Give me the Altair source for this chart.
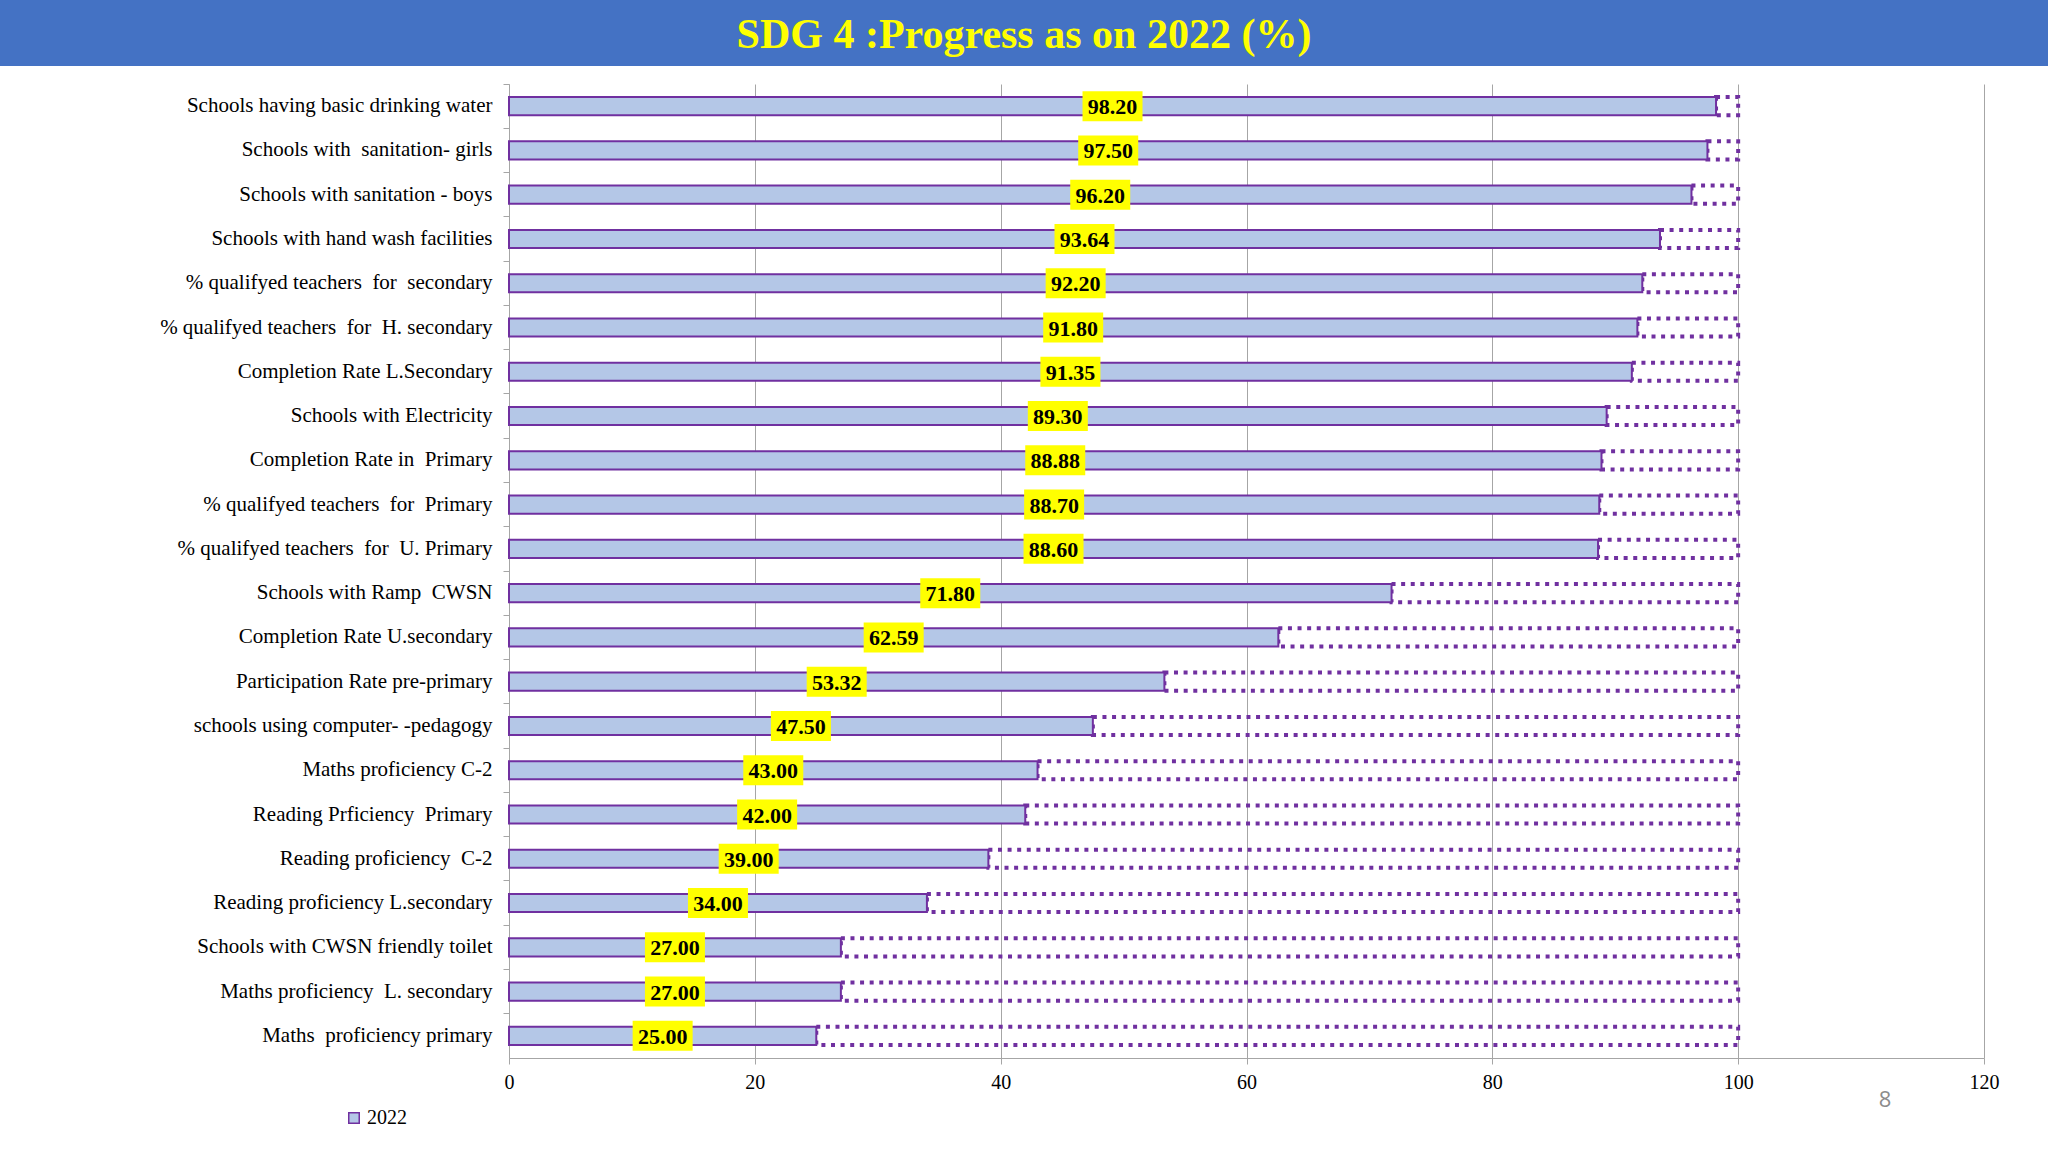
import altair as alt
import pandas as pd

NB = "\u00a0"
categories = [
    "Schools having basic drinking water" + NB,
    "Schools with " + NB + "sanitation- girls",
    "Schools with sanitation - boys",
    "Schools with hand wash facilities" + NB,
    "% qualifyed teachers " + NB + "for " + NB + "secondary" + NB,
    "% qualifyed teachers " + NB + "for " + NB + "H. secondary" + NB,
    "Completion Rate L.Secondary",
    "Schools with Electricity",
    "Completion Rate in " + NB + "Primary" + NB,
    "% qualifyed teachers " + NB + "for " + NB + "Primary",
    "% qualifyed teachers " + NB + "for " + NB + "U. Primary",
    "Schools with Ramp " + NB + "CWSN" + NB,
    "Completion Rate U.secondary" + NB,
    "Participation Rate pre-primary",
    "schools using computer- -pedagogy",
    "Maths proficiency C-2",
    "Reading Prficiency " + NB + "Primary",
    "Reading proficiency " + NB + "C-2",
    "Reading proficiency L.secondary" + NB,
    "Schools with CWSN friendly toilet",
    "Maths proficiency " + NB + "L. secondary",
    "Maths " + NB + "proficiency primary",
]
values = [98.20, 97.50, 96.20, 93.64, 92.20, 91.80, 91.35, 89.30, 88.88, 88.70,
          88.60, 71.80, 62.59, 53.32, 47.50, 43.00, 42.00, 39.00, 34.00, 27.00,
          27.00, 25.00]
target = 100
series_name = "2022"
x_ticks = [0, 20, 40, 60, 80, 100, 120]
title_text = "SDG 4 :Progress as on 2022 (%)"
page_number = "8"

df = pd.DataFrame({"indicator": categories, "value": values,
                   "series": series_name, "target": target})

W, H = 1475, 974
PL, PT, PR, PB = 509, 84, 64, 94
SERIF = "Liberation Serif"
GRAY = "#A6A6A6"
PURPLE = "#7030A0"

yscale = alt.Scale(domain=categories, paddingInner=0, paddingOuter=0)
xscale = alt.Scale(domain=[0, 120], nice=False)

x_axis = alt.Axis(values=x_ticks, grid=True, gridColor=GRAY, gridWidth=1,
                  domainColor=GRAY, tickColor=GRAY, tickSize=6,
                  labelFont=SERIF, labelFontSize=20, labelColor="black",
                  labelPadding=8, labelFlush=False)

y_label_axis = alt.Axis(labelFont=SERIF, labelFontSize=21, labelColor="black",
                        ticks=False, domain=True, domainColor=GRAY,
                        labelPadding=17, labelLimit=500, orient="left", grid=False)
y_tick_axis = alt.Axis(labels=False, ticks=True, tickSize=6, tickColor=GRAY,
                       domain=False, bandPosition=0, orient="left", grid=False)

base = alt.Chart(df)

remainder = base.mark_bar(
    fill="white", fillOpacity=0, stroke=PURPLE, strokeWidth=4,
    strokeDash=[4, 5.6], height=alt.RelativeBandSize(band=0.41)
).encode(
    y=alt.Y("indicator:N", sort=categories, scale=yscale, title=None, axis=y_label_axis),
    x=alt.X("value:Q", scale=xscale, title=None, axis=x_axis),
    x2="target:Q",
)

bars = base.mark_bar(
    stroke=PURPLE, strokeWidth=2, height=alt.RelativeBandSize(band=0.41)
).encode(
    y=alt.Y("indicator:N", sort=categories, scale=yscale, title=None, axis=y_tick_axis),
    x=alt.X("value:Q", scale=xscale, title=None, axis=x_axis),
    fill=alt.Fill("series:N", scale=alt.Scale(range=["#B4C7E7"]), title=None,
                  legend=alt.Legend(orient="none", legendX=-165, legendY=1024,
                                    symbolType="square", symbolSize=110,
                                    symbolStrokeColor=PURPLE, symbolStrokeWidth=1.5,
                                    labelFont=SERIF, labelFontSize=20,
                                    labelColor="black", labelOffset=3, padding=0)),
)

boxes = base.transform_calculate(mid="datum.value / 2").mark_point(
    shape="M-1,-0.5H1V0.5H-1Z", filled=True, fill="#FFFF00", size=3600,
    opacity=1, strokeWidth=0
).encode(
    y=alt.Y("indicator:N", sort=categories, scale=yscale, axis=None),
    x=alt.X("mid:Q", scale=xscale, axis=x_axis, title=None),
)

labels = base.transform_calculate(mid="datum.value / 2").mark_text(
    font=SERIF, fontSize=22, fontWeight="bold", color="black", baseline="middle",
    dy=1
).encode(
    y=alt.Y("indicator:N", sort=categories, scale=yscale, axis=None),
    x=alt.X("mid:Q", scale=xscale, axis=x_axis, title=None),
    text=alt.Text("value:Q", format=".2f"),
)

deco = alt.Chart(pd.DataFrame({"t": [title_text], "p": [page_number]}))

banner = deco.mark_rect(color="#4472C4").encode(
    x=alt.value(-PL), x2=alt.value(2048 - PL), y=alt.value(-PT), y2=alt.value(66 - PT)
)
title = deco.mark_text(font=SERIF, fontSize=42, fontWeight="bold", color="#FFFF00",
                       baseline="middle", align="center").encode(
    x=alt.value(1024 - PL), y=alt.value(35 - PT), text="t:N"
)
page = deco.mark_text(font="Open Sans", fontSize=22, color="#8C8C8C",
                      baseline="middle", align="center").encode(
    x=alt.value(1885 - PL), y=alt.value(1100 - PT), text="p:N"
)

chart = alt.layer(banner, title, remainder, bars, boxes, labels, page).resolve_axis(
    y="independent"
).properties(
    width=W, height=H,
    padding={"left": PL, "top": PT, "right": PR, "bottom": PB},
    autosize=alt.AutoSizeParams(type="none"),
    background="white",
).configure_view(stroke=None)

chart.save("out.html", embed_options={"renderer": "svg", "actions": False})
